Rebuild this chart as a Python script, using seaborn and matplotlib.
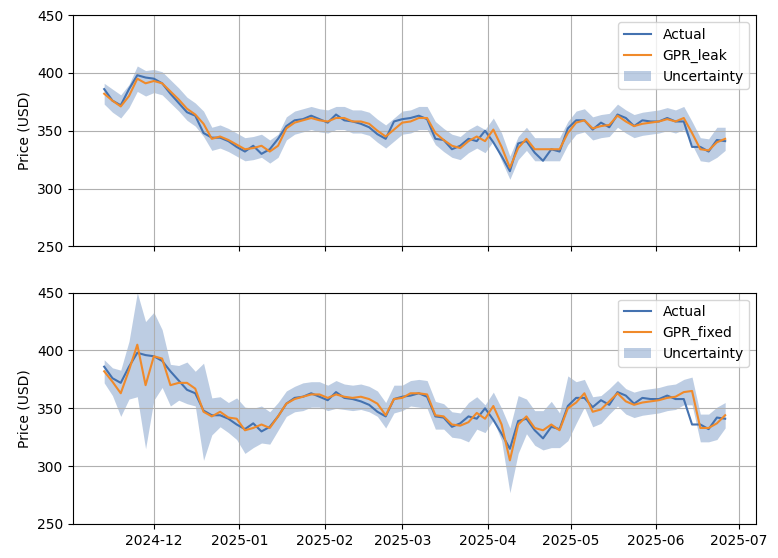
import matplotlib
matplotlib.use("Agg")
import matplotlib.pyplot as plt
import matplotlib.dates as mdates
import seaborn as sns
import pandas as pd

# sample dates (every 3 days over the test window)
dates = pd.date_range("2024-11-13", periods=76, freq="3D")

actual = [386, 376, 372, 386, 398, 396, 395, 391, 382, 374,
          366, 363, 348, 344, 344, 341, 336, 332, 337, 330,
          334, 343, 354, 359, 360, 363, 360, 357, 364, 359,
          358, 356, 353, 347, 343, 358, 360, 361, 363, 360,
          343, 342, 334, 337, 343, 341, 350, 340, 328, 315,
          339, 341, 331, 324, 334, 332, 352, 359, 359, 351,
          357, 353, 364, 361, 354, 359, 358, 358, 361, 358,
          358, 336, 336, 332, 342, 341]

gpr_leak = [382, 376, 371, 380, 395, 391, 393, 391, 384, 377,
            369, 364, 356, 343, 345, 342, 338, 334, 335, 337,
            332, 337, 352, 357, 359, 361, 359, 358, 361, 361,
            358, 358, 356, 350, 345, 351, 357, 358, 361, 361,
            348, 342, 337, 335, 341, 345, 341, 351, 336, 318,
            335, 343, 334, 334, 334, 334, 348, 357, 359, 352,
            354, 355, 363, 358, 354, 356, 357, 358, 360, 358,
            361, 348, 334, 333, 340, 343]

leak_band = [9, 10, 10, 10, 11, 11, 10, 10, 10, 10,
             10, 10, 11, 10, 10, 10, 10, 10, 10, 10,
             10, 10, 10, 10, 10, 10, 10, 10, 10, 10,
             10, 10, 10, 10, 10, 10, 10, 10, 10, 10,
             10, 10, 10, 10, 10, 10, 10, 10, 12, 10,
             10, 10, 10, 10, 10, 10, 10, 10, 10, 10,
             10, 10, 10, 10, 10, 10, 10, 10, 10, 10,
             10, 10, 10, 10, 13, 10]

gpr_fixed = [382, 373, 363, 383, 405, 370, 395, 393, 370, 372,
             372, 367, 347, 343, 347, 342, 341, 331, 333, 336,
             333, 343, 354, 358, 360, 362, 362, 359, 362, 360,
             359, 360, 358, 354, 344, 358, 359, 363, 363, 362,
             344, 343, 336, 335, 338, 346, 341, 352, 336, 305,
             336, 343, 333, 331, 336, 331, 350, 355, 363, 347,
             349, 356, 363, 356, 353, 355, 356, 357, 359, 360,
             364, 365, 333, 333, 337, 344]

fixed_band = [10, 12, 20, 25, 45, 55, 38, 25, 18, 15,
              18, 15, 42, 16, 13, 13, 18, 20, 17, 16,
              14, 12, 11, 11, 12, 11, 11, 11, 12, 11,
              11, 11, 11, 11, 11, 12, 11, 11, 12, 12,
              12, 11, 11, 11, 17, 14, 12, 12, 14, 28,
              25, 15, 15, 17, 20, 15, 28, 18, 12, 13,
              12, 11, 11, 11, 11, 11, 11, 11, 11, 11,
              11, 12, 12, 12, 14, 11]

df = pd.DataFrame({
    "date": dates,
    "actual": actual,
    "gpr_leak": gpr_leak,
    "leak_band": leak_band,
    "gpr_fixed": gpr_fixed,
    "fixed_band": fixed_band,
})

BLUE = "#4472B0"
ORANGE = "#F08A2A"

fig, axes = plt.subplots(2, 1, figsize=(7.78, 5.58), dpi=100, sharex=True)
fig.subplots_adjust(left=0.094, right=0.972, top=0.973, bottom=0.061, hspace=0.2)

panels = [("gpr_leak", "leak_band", "GPR_leak"), ("gpr_fixed", "fixed_band", "GPR_fixed")]
for ax, (col, band, name) in zip(axes, panels):
    sns.lineplot(data=df, x="date", y="actual", ax=ax, color=BLUE, linewidth=1.5, label="Actual")
    sns.lineplot(data=df, x="date", y=col, ax=ax, color=ORANGE, linewidth=1.5, label=name)
    ax.fill_between(df["date"], df[col] - df[band], df[col] + df[band],
                    color=BLUE, alpha=0.35, linewidth=0, label="Uncertainty")
    ax.set_ylim(250, 450)
    ax.set_yticks([250, 300, 350, 400, 450])
    ax.set_ylabel("Price (USD)")
    ax.set_xlabel("")
    ax.grid(True)
    ax.legend(loc="upper right")

axes[1].xaxis.set_major_locator(mdates.MonthLocator())
axes[1].xaxis.set_major_formatter(mdates.DateFormatter("%Y-%m"))

plt.savefig("out.png")
plt.close()
